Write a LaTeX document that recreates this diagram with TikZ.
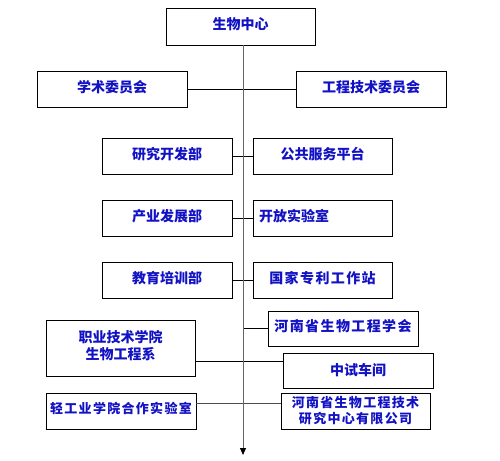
\documentclass[tikz,border=0pt]{standalone}
\usepackage{fontspec}
\newfontfamily\cjk{Noto Sans CJK SC}
\newfontfamily\cjkwide[LetterSpace=10]{Noto Sans CJK SC}
\usepackage{xcolor}
\usepackage{tikz}
\usetikzlibrary{arrows.meta}
\definecolor{orgblue}{RGB}{18,18,196}
\tikzset{
  orgbox/.style={draw=black, line width=0.8pt, fill=white, align=center,
    minimum width=150pt, minimum height=36pt, inner sep=2pt, text depth=6pt,
    font=\cjk\bfseries\fontsize{14}{17}\selectfont, text=orgblue},
  orgwide/.style={orgbox, font=\cjkwide\bfseries\fontsize{14}{17}\selectfont},
  orgline/.style={draw=black, line width=0.8pt},
  orgtrunk/.style={draw=black!60, line width=1pt,
    -{Triangle[length=7pt, width=6pt, black]}}
}
\begin{document}
\begin{tikzpicture}[x=1pt,y=-1pt]
  \useasboundingbox (0,0) rectangle (500,460);
  \node[orgbox, minimum width=149pt, minimum height=37pt] (center) at (240.5,26.5)
    {生物中心};
  \coordinate (trunkend) at (243,455);

  \node[orgbox] (xueshu) at (112,89) {学术委员会};
  \node[orgbox] (gongcheng) at (371,89) {工程技术委员会};

  \node[orgbox, minimum width=130pt] (yanjiu) at (167,156) {研究开发部};
  \node[orgbox, minimum width=139pt] (gonggong) at (322.5,156) {公共服务平台};
  \node[orgbox, minimum width=130pt] (chanye) at (167,218) {产业发展部};
  \node[orgbox, minimum width=139pt, text width=127pt, align=left]
    (kaifang) at (322.5,218) {开放实验室};
  \node[orgbox, minimum width=130pt] (jiaoyu) at (167,280) {教育培训部};
  \node[orgwide, minimum width=139pt] (guojia) at (322.5,280) {国家专利工作站};

  \node[orgwide, minimum height=35pt] (xuehui) at (343,328.5)
    {河南省生物工程学会};
  \node[orgbox, minimum width=149pt, minimum height=56pt] (zhiye) at (120.5,348)
    {职业技术学院\\生物工程系};
  \node[orgbox, minimum height=35pt, text depth=2pt] (zhongshi) at (358,370.5)
    {中试车间};
  \node[orgwide, font=\cjkwide\bfseries\fontsize{13}{16}\selectfont]
    (qinggong) at (121,411) {轻工业学院合作实验室};
  \node[orgwide, minimum width=149pt, text depth=3pt,
    font=\cjkwide\bfseries\fontsize{13}{16}\selectfont]
    (gongsi) at (355.5,411) {河南省生物工程技术\\研究中心有限公司};

  % connectors
  \draw[orgline] (xueshu) -- (gongcheng);
  \draw[orgline] (yanjiu) -- (gonggong);
  \draw[orgline] (chanye) -- (kaifang);
  \draw[orgline] (jiaoyu) -- (guojia);
  \draw[orgline] (xuehui.west) -- (xuehui.west -| trunkend);
  \draw[orgline] ([yshift=-13pt]zhiye.east) -- ([yshift=-13pt]zhiye.east -| zhongshi.west);
  \draw[orgline, draw=black!70] ([yshift=8pt]qinggong.east) -- ([yshift=8pt]qinggong.east -| gongsi.west);
  \draw[orgtrunk] (center.south -| trunkend) -- (trunkend);
\end{tikzpicture}
\end{document}
